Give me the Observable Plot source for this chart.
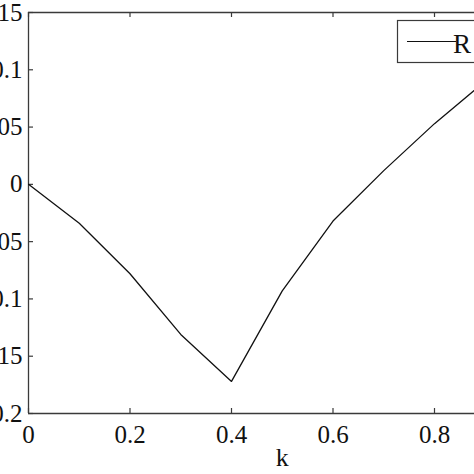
<!DOCTYPE html>
<html>
<head>
<meta charset="utf-8">
<script src="https://cdn.jsdelivr.net/npm/d3@7"></script>
<script src="https://cdn.jsdelivr.net/npm/@observablehq/plot@0.6"></script>
<style>
html, body { margin: 0; padding: 0; background: #fff; overflow: hidden; }
</style>
</head>
<body>
<div id="chart"></div>
<script>
const kValues = [0, 0.1, 0.2, 0.3, 0.4, 0.5, 0.6, 0.7, 0.8, 0.9];
const rValues = [0, -0.034, -0.078, -0.131, -0.172, -0.093, -0.032, 0.012, 0.053, 0.090];
const xTicks = [0, 0.2, 0.4, 0.6, 0.8];
const yTicks = [0.15, 0.1, 0.05, 0, -0.05, -0.1, -0.15, -0.2];
const seriesName = "R";
const xLabel = "k";

const data = kValues.map((k, i) => ({k, r: rValues[i]}));
const font = "'Liberation Serif', 'Times New Roman', serif";
const axisColor = "#3a3a3a";

const legend = () => {
  const ns = "http://www.w3.org/2000/svg";
  const g = document.createElementNS(ns, "g");
  const rect = document.createElementNS(ns, "rect");
  rect.setAttribute("x", 397.5); rect.setAttribute("y", 20.5);
  rect.setAttribute("width", 100); rect.setAttribute("height", 42);
  rect.setAttribute("fill", "white"); rect.setAttribute("stroke", axisColor);
  rect.setAttribute("stroke-width", 1.2);
  g.appendChild(rect);
  const line = document.createElementNS(ns, "line");
  line.setAttribute("x1", 407); line.setAttribute("x2", 456);
  line.setAttribute("y1", 41.5); line.setAttribute("y2", 41.5);
  line.setAttribute("stroke", "#111"); line.setAttribute("stroke-width", 1.2);
  g.appendChild(line);
  const t = document.createElementNS(ns, "text");
  t.setAttribute("x", 462); t.setAttribute("y", 53);
  t.setAttribute("font-family", font); t.setAttribute("font-size", 27);
  t.setAttribute("fill", "#111");
  t.textContent = seriesName;
  g.appendChild(t);
  return g;
};

const plot = Plot.plot({
  width: 474,
  height: 474,
  marginLeft: 28,
  marginRight: 0,
  marginTop: 12,
  marginBottom: 61,
  style: {fontFamily: font, background: "white", color: "#111"},
  x: {domain: [0, 446 / 507.5], label: null},
  y: {domain: [-0.2, 0.15], label: null},
  marks: [
    Plot.ruleX([0], {stroke: axisColor, strokeWidth: 1.3}),
    Plot.ruleY([-0.2, 0.15], {stroke: axisColor, strokeWidth: 1.3}),
    Plot.tickX(xTicks, {x: d => d, insetTop: 396, stroke: axisColor, strokeWidth: 1.2}),
    Plot.tickX(xTicks, {x: d => d, insetBottom: 396, stroke: axisColor, strokeWidth: 1.2}),
    Plot.tickY(yTicks, {y: d => d, insetRight: 441, stroke: axisColor, strokeWidth: 1.2}),
    Plot.axisX({ticks: xTicks, tickSize: 0, tickPadding: 12, fontSize: 25, fontFamily: font, tickFormat: d => String(d), label: null, style: {letterSpacing: "1px"}}),
    Plot.axisY({ticks: yTicks, tickSize: 0, tickPadding: 6, fontSize: 25, fontFamily: font, tickFormat: d => String(d), label: null}),
    Plot.text([xLabel], {x: 0.5, frameAnchor: "bottom", dy: 52, text: d => d, fontSize: 26, fontFamily: font, fill: "#111"}),
    Plot.line(data, {x: "k", y: "r", stroke: "#111", strokeWidth: 1.3, clip: true}),
    legend
  ]
});
document.getElementById("chart").appendChild(plot);
</script>
</body>
</html>
